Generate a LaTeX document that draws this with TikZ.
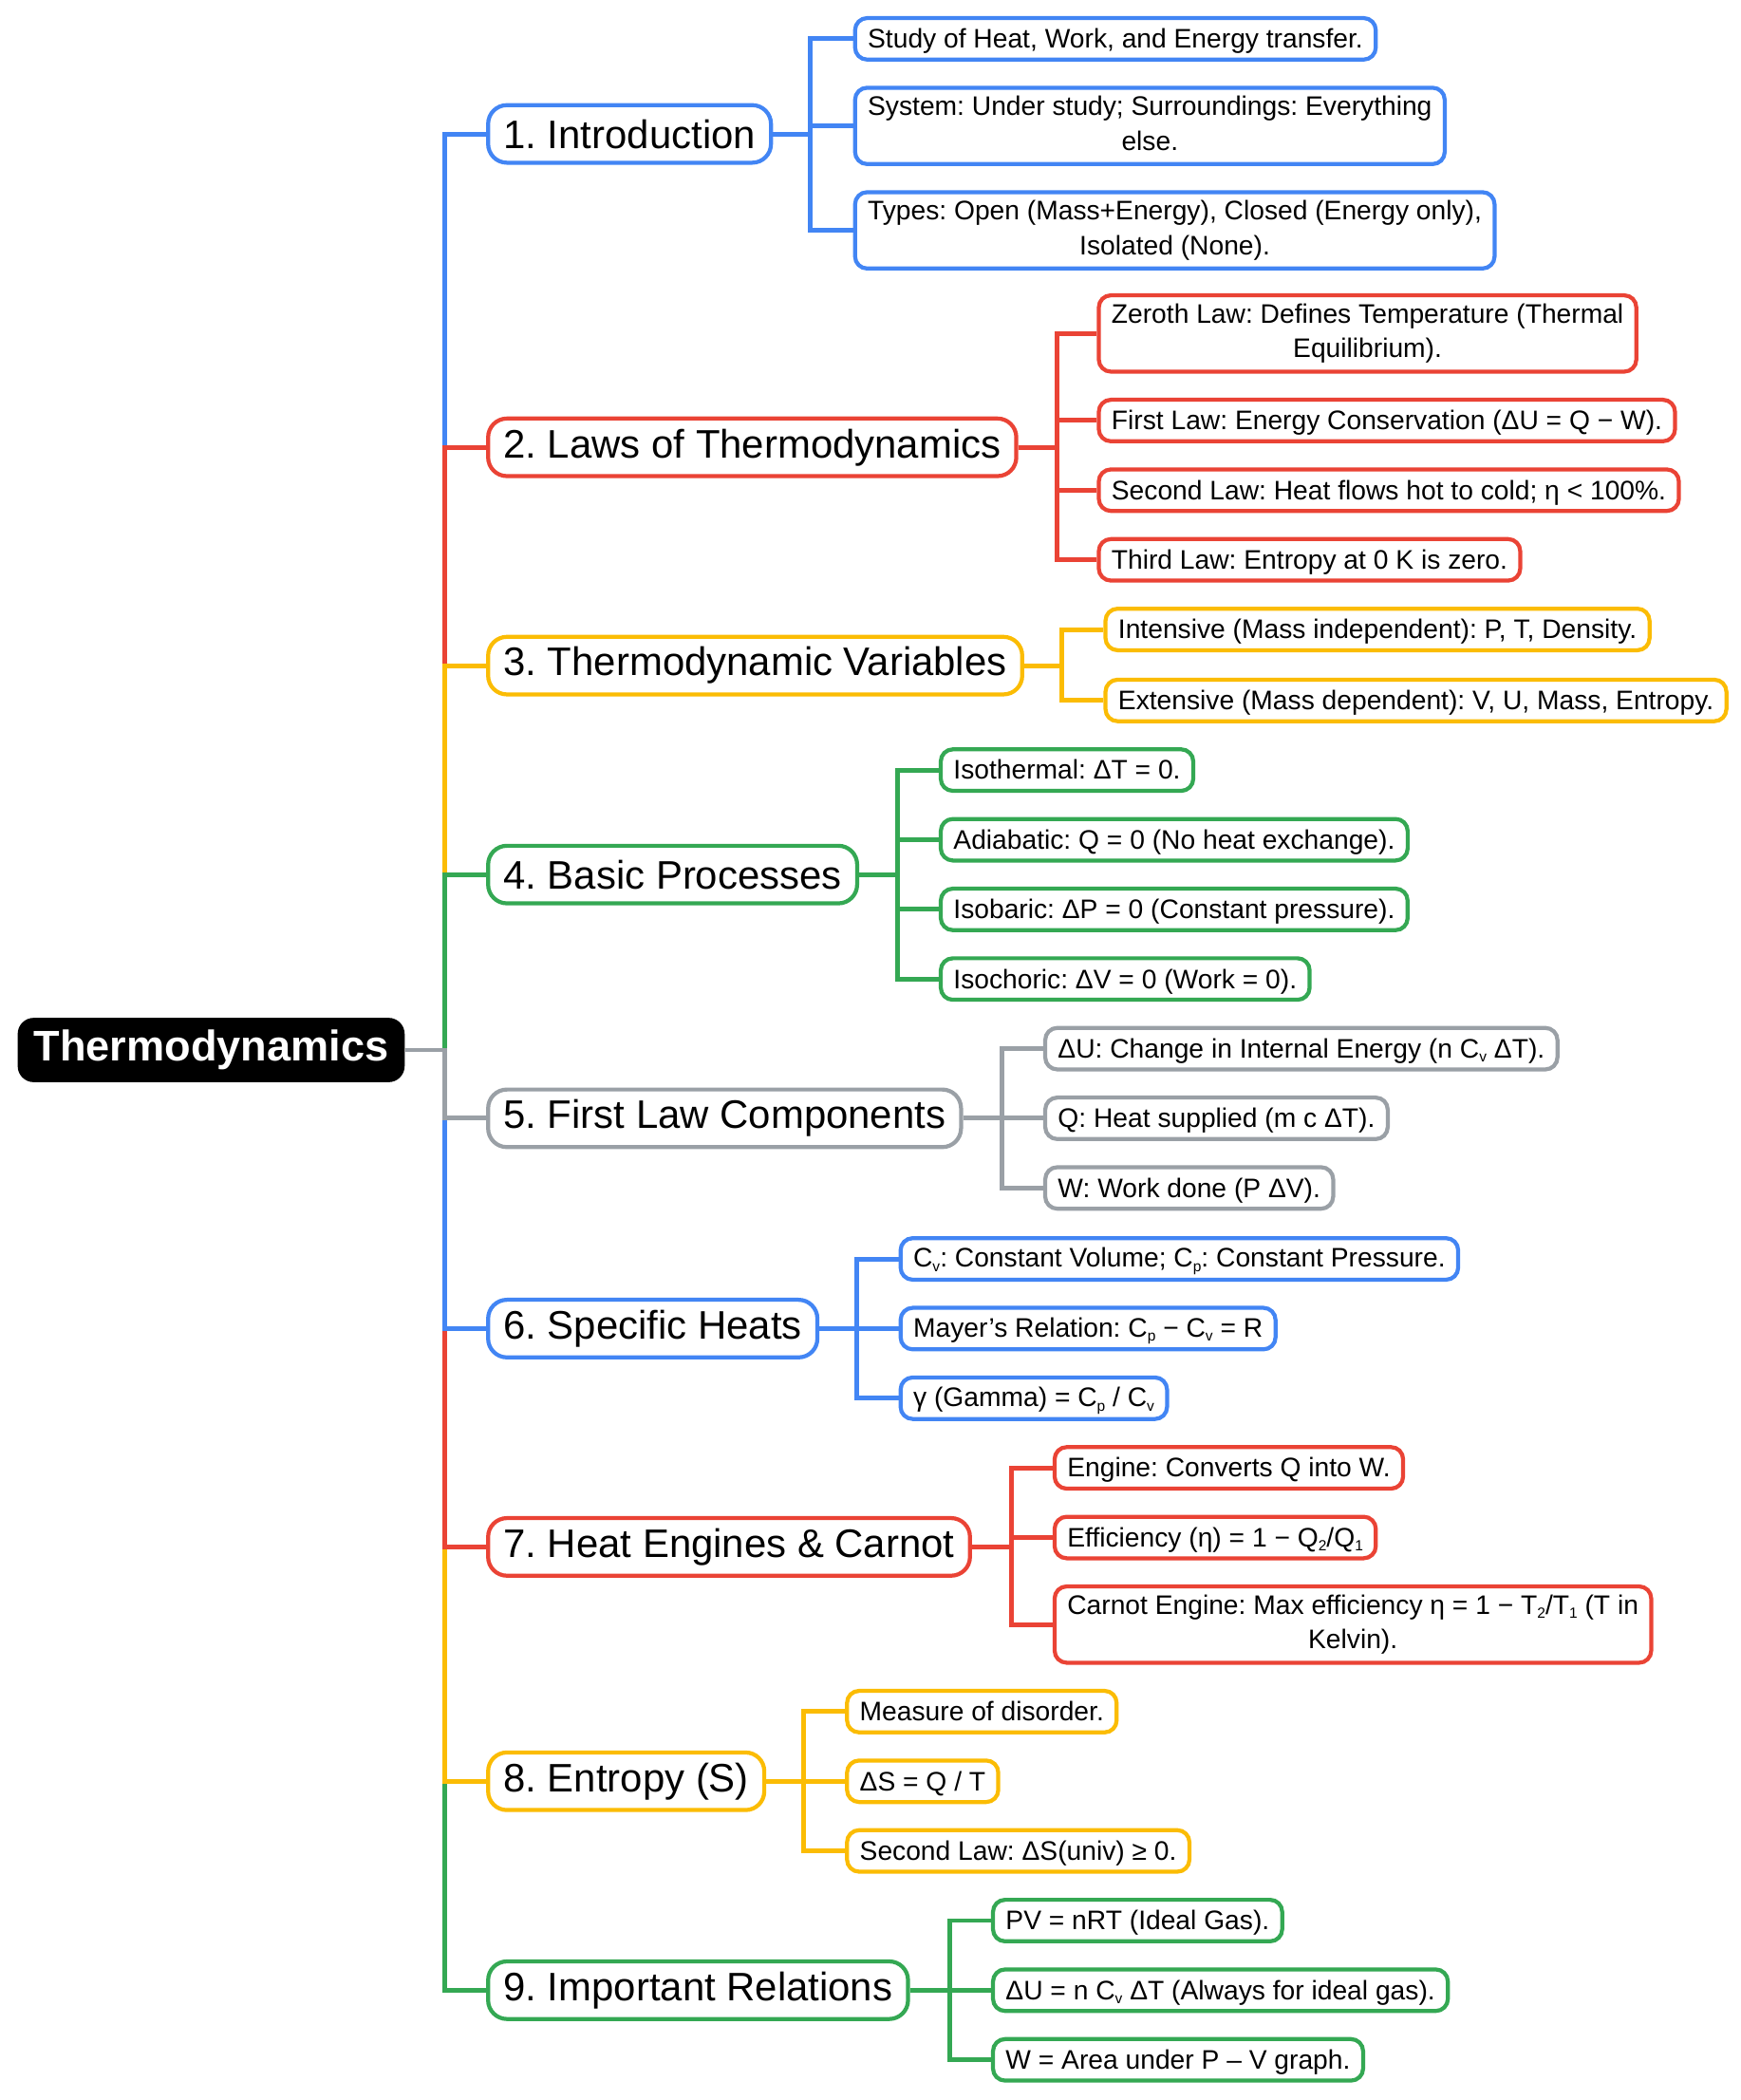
\documentclass[tikz,border=0pt]{standalone}
\usepackage{fontspec}
\setmainfont{Liberation Sans}
\frenchspacing
\definecolor{gblue}{HTML}{4285F4}
\definecolor{gred}{HTML}{EA4335}
\definecolor{gyellow}{HTML}{FBBC04}
\definecolor{ggreen}{HTML}{34A853}
\definecolor{ggray}{HTML}{9AA0A6}
\newcommand{\lffont}{\fontsize{20}{26}\selectfont}
\newcommand{\brfont}{\fontsize{29.7}{34}\selectfont}
\newcommand{\rtfont}{\fontsize{32}{36}\selectfont\bfseries}
\newcommand{\sub}[1]{\raisebox{-0.3ex}{\fontsize{11}{11}\selectfont #1}}
\tikzset{
  leaf/.style={draw=#1, line width=3pt, rounded corners=9pt, fill=white, anchor=west,
    inner xsep=9.5pt, inner ysep=2pt, minimum height=31pt, font=\lffont, align=center,
    execute at begin node={\rule{0pt}{18pt}}, execute at end node={\vphantom{Ay}}},
  twoline/.style={minimum height=57pt},
  br/.style={draw=#1, line width=3pt, rounded corners=14pt, fill=white, anchor=west,
    inner xsep=11.5pt, inner ysep=2pt, minimum height=43pt, font=\brfont},
  rootbox/.style={fill=black, text=white, rounded corners=12pt, anchor=west,
    inner xsep=12pt, inner ysep=2pt, minimum height=48pt, font=\rtfont},
  conn/.style={draw=#1, line width=3.5pt},
}
\begin{document}
\begin{tikzpicture}[x=1pt,y=-1pt]
\useasboundingbox (0,0) rectangle (1300,1568);

% root and main branches
\node[rootbox] (root) at (13,784) {Thermodynamics};
\coordinate (trunk) at (332,784);

\node[br=gblue]   (b1) at (363,100)  {1. Introduction};
\node[br=gred]    (b2) at (363,334)  {2. Laws of Thermodynamics};
\node[br=gyellow] (b3) at (363,497)  {3. Thermodynamic Variables};
\node[br=ggreen]  (b4) at (363,653)  {4. Basic Processes};
\node[br=ggray]   (b5) at (363,835)  {5. First Law Components};
\node[br=gblue]   (b6) at (363,992)  {6. Specific Heats};
\node[br=gred]    (b7) at (363,1155) {7. Heat Engines \& Carnot};
\node[br=gyellow] (b8) at (363,1330) {8. Entropy (S)};
\node[br=ggreen]  (b9) at (363,1486) {9. Important Relations};

% junctions
\coordinate (j1) at (605,100);
\coordinate (j2) at (789,334);
\coordinate (j3) at (793,497);
\coordinate (j4) at (670,653);
\coordinate (j5) at (748,835);
\coordinate (j6) at (640,992);
\coordinate (j7) at (755,1155);
\coordinate (j8) at (600,1330);
\coordinate (j9) at (709,1486);

% leaves
\node[leaf=gblue] (l11) at (637,29) {Study of Heat, Work, and Energy transfer.};
\node[leaf=gblue,twoline] (l12) at (637,94) {System: Under study; Surroundings: Everything\\else.};
\node[leaf=gblue,twoline] (l13) at (637,172) {Types: Open (Mass+Energy), Closed (Energy only),\\Isolated (None).};

\node[leaf=gred,twoline] (l21) at (819,249) {Zeroth Law: Defines Temperature (Thermal\\Equilibrium).};
\node[leaf=gred] (l22) at (819,314) {First Law: Energy Conservation (ΔU = Q − W).};
\node[leaf=gred] (l23) at (819,366) {Second Law: Heat flows hot to cold; η < 100\%.};
\node[leaf=gred] (l24) at (819,418) {Third Law: Entropy at 0 K is zero.};

\node[leaf=gyellow] (l31) at (824,470) {Intensive (Mass independent): P, T, Density.};
\node[leaf=gyellow] (l32) at (824,523) {Extensive (Mass dependent): V, U, Mass, Entropy.};

\node[leaf=ggreen] (l41) at (701,575) {Isothermal: ΔT = 0.};
\node[leaf=ggreen] (l42) at (701,627) {Adiabatic: Q = 0 (No heat exchange).};
\node[leaf=ggreen] (l43) at (701,679) {Isobaric: ΔP = 0 (Constant pressure).};
\node[leaf=ggreen] (l44) at (701,731) {Isochoric: ΔV = 0 (Work = 0).};

\node[leaf=ggray] (l51) at (779,783) {ΔU: Change in Internal Energy (n C\sub{v} ΔT).};
\node[leaf=ggray] (l52) at (779,835) {Q: Heat supplied (m c ΔT).};
\node[leaf=ggray] (l53) at (779,887) {W: Work done (P ΔV).};

\node[leaf=gblue] (l61) at (671,940) {C\sub{v}: Constant Volume; C\sub{p}: Constant Pressure.};
\node[leaf=gblue] (l62) at (671,992) {Mayer’s Relation: C\sub{p} − C\sub{v} = R};
\node[leaf=gblue] (l63) at (671,1044) {γ (Gamma) = C\sub{p} / C\sub{v}};

\node[leaf=gred] (l71) at (786,1096) {Engine: Converts Q into W.};
\node[leaf=gred] (l72) at (786,1148) {Efficiency (η) = 1 − Q\sub{2}/Q\sub{1}};
\node[leaf=gred,twoline] (l73) at (786,1213) {Carnot Engine: Max efficiency η = 1 − T\sub{2}/T\sub{1} (T in\\Kelvin).};

\node[leaf=gyellow] (l81) at (631,1278) {Measure of disorder.};
\node[leaf=gyellow] (l82) at (631,1330) {ΔS = Q / T};
\node[leaf=gyellow] (l83) at (631,1382) {Second Law: ΔS(univ) ≥ 0.};

\node[leaf=ggreen] (l91) at (740,1434) {PV = nRT (Ideal Gas).};
\node[leaf=ggreen] (l92) at (740,1486) {ΔU = n C\sub{v} ΔT (Always for ideal gas).};
\node[leaf=ggreen] (l93) at (740,1538) {W = Area under P – V graph.};

% trunk connectors (farthest first)
\draw[conn=gblue]   (root.east) -- (trunk) |- (b1.west);
\draw[conn=gred]    (root.east) -- (trunk) |- (b2.west);
\draw[conn=gyellow] (root.east) -- (trunk) |- (b3.west);
\draw[conn=ggreen]  (root.east) -- (trunk) |- (b4.west);
\draw[conn=ggreen]  (root.east) -- (trunk) |- (b9.west);
\draw[conn=gyellow] (root.east) -- (trunk) |- (b8.west);
\draw[conn=gred]    (root.east) -- (trunk) |- (b7.west);
\draw[conn=gblue]   (root.east) -- (trunk) |- (b6.west);
\draw[conn=ggray]   (root.east) -- (trunk) |- (b5.west);

% leaf connectors
\draw[conn=gblue] (b1.east) -- (j1) |- (l11.west);
\draw[conn=gblue] (j1) |- (l12.west);
\draw[conn=gblue] (j1) |- (l13.west);

\draw[conn=gred] (b2.east) -- (j2) |- (l21.west);
\draw[conn=gred] (j2) |- (l22.west);
\draw[conn=gred] (j2) |- (l23.west);
\draw[conn=gred] (j2) |- (l24.west);

\draw[conn=gyellow] (b3.east) -- (j3) |- (l31.west);
\draw[conn=gyellow] (j3) |- (l32.west);

\draw[conn=ggreen] (b4.east) -- (j4) |- (l41.west);
\draw[conn=ggreen] (j4) |- (l42.west);
\draw[conn=ggreen] (j4) |- (l43.west);
\draw[conn=ggreen] (j4) |- (l44.west);

\draw[conn=ggray] (b5.east) -- (j5) |- (l51.west);
\draw[conn=ggray] (j5) |- (l52.west);
\draw[conn=ggray] (j5) |- (l53.west);

\draw[conn=gblue] (b6.east) -- (j6) |- (l61.west);
\draw[conn=gblue] (j6) |- (l62.west);
\draw[conn=gblue] (j6) |- (l63.west);

\draw[conn=gred] (b7.east) -- (j7) |- (l71.west);
\draw[conn=gred] (j7) |- (l72.west);
\draw[conn=gred] (j7) |- (l73.west);

\draw[conn=gyellow] (b8.east) -- (j8) |- (l81.west);
\draw[conn=gyellow] (j8) |- (l82.west);
\draw[conn=gyellow] (j8) |- (l83.west);

\draw[conn=ggreen] (b9.east) -- (j9) |- (l91.west);
\draw[conn=ggreen] (j9) |- (l92.west);
\draw[conn=ggreen] (j9) |- (l93.west);
\end{tikzpicture}
\end{document}
